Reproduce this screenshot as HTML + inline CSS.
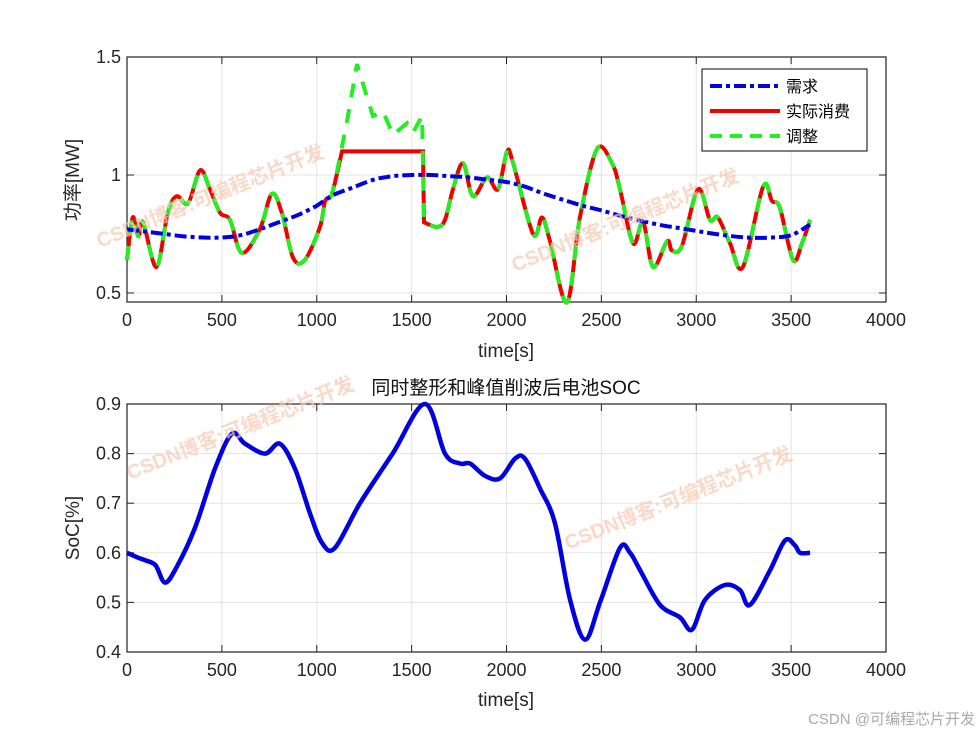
<!DOCTYPE html>
<html><head><meta charset="utf-8">
<style>
html,body{margin:0;padding:0;background:#fff;}
svg{display:block;font-family:"Liberation Sans","Noto Sans CJK SC",sans-serif;}
</style></head>
<body>
<svg id="chart" width="980" height="735" viewBox="0 0 980 735" xmlns="http://www.w3.org/2000/svg">
<g id="top"></g>
<g id="bot"></g>
<g id="legend">
  <rect x="702" y="69" width="165" height="82" fill="#fff" stroke="#000" stroke-width="1"/>
  <line x1="710" y1="86" x2="780" y2="86" stroke="#0000e0" stroke-width="4" stroke-dasharray="12,4,4,4"/>
  <text x="786" y="92" font-size="16">需求</text>
  <line x1="710" y1="111" x2="780" y2="111" stroke="#f00000" stroke-width="4"/>
  <text x="786" y="117" font-size="16">实际消费</text>
  <line x1="710" y1="136" x2="780" y2="136" stroke="#22ee22" stroke-width="4" stroke-dasharray="12,8"/>
  <text x="786" y="142" font-size="16">调整</text>
</g>
<g fill="#f6c8b0" font-size="20" font-weight="bold" opacity="0.7">
  <text transform="translate(100,248) rotate(-22)">CSDN博客:可编程芯片开发</text>
  <text transform="translate(515,272) rotate(-22)">CSDN博客:可编程芯片开发</text>
  <text transform="translate(130,480) rotate(-22)">CSDN博客:可编程芯片开发</text>
  <text transform="translate(568,550) rotate(-22)">CSDN博客:可编程芯片开发</text>
</g>
<text x="975" y="724" font-size="15" fill="#aaa" text-anchor="end">CSDN @可编程芯片开发</text>
</svg>
<script>
const xTicks=[0,500,1000,1500,2000,2500,3000,3500,4000];
const topYTicks=[0.5,1,1.5];
const topYLabels=["0.5","1","1.5"];
const botYTicks=[0.4,0.5,0.6,0.7,0.8,0.9];
const demandT=[0,100,200,300,400,500,600,700,800,900,1000,1054,1100,1200,1300,1400,1500,1600,1700,1800,1900,2003,2100,2200,2319,2400,2500,2635,2800,2951,3100,3267,3400,3500,3600];
const demandV=[0.77,0.76,0.75,0.74,0.735,0.735,0.745,0.77,0.8,0.83,0.87,0.9,0.92,0.95,0.98,0.995,1.0,1.0,0.995,0.99,0.98,0.97,0.95,0.92,0.89,0.87,0.85,0.82,0.79,0.77,0.75,0.735,0.735,0.745,0.79];
const actualT=[0,30,60,85,155,215,262,322,385,437,490,543,605,700,763,816,875,937,1017,1044,1080,1133,1560,1565,1634,1676,1718,1771,1823,1897,1955,2003,2035,2140,2187,2229,2319,2387,2477,2556,2598,2667,2720,2772,2846,2872,2925,3009,3072,3114,3178,3246,3352,3399,3441,3510,3557,3600];
const actualV=[0.64,0.82,0.74,0.8,0.61,0.84,0.91,0.88,1.02,0.94,0.84,0.81,0.67,0.77,0.92,0.84,0.65,0.64,0.78,0.89,0.92,1.1,1.1,0.8,0.78,0.81,0.94,1.05,0.91,0.99,0.94,1.1,1.05,0.75,0.82,0.72,0.46,0.82,1.11,1.05,0.94,0.71,0.8,0.61,0.72,0.68,0.7,0.94,0.81,0.82,0.71,0.61,0.95,0.89,0.86,0.64,0.71,0.81];
const spikeT=[1133,1160,1212,1265,1296,1349,1402,1476,1507,1555];
const spikeV=[1.12,1.23,1.47,1.33,1.25,1.27,1.17,1.22,1.18,1.25];
const socT=[0,60,95,150,200,260,358,464,553,622,727,806,885,964,1028,1096,1228,1400,1570,1676,1755,1808,1887,1966,2045,2097,2176,2255,2335,2414,2493,2598,2651,2704,2809,2914,2977,3046,3151,3230,3283,3389,3468,3520,3547,3600];
const socV=[0.6,0.59,0.585,0.575,0.54,0.57,0.65,0.77,0.84,0.82,0.8,0.82,0.77,0.68,0.62,0.61,0.70,0.80,0.9,0.8,0.78,0.78,0.755,0.75,0.79,0.79,0.73,0.66,0.505,0.425,0.5,0.61,0.6,0.565,0.495,0.47,0.445,0.505,0.535,0.525,0.495,0.565,0.625,0.615,0.6,0.6];

const NS="http://www.w3.org/2000/svg";
const X0=127,X1=886;
const xs=t=>X0+(t/4000)*(X1-X0);
const topY=v=>175-(v-1)*236;
const botY=v=>404+(0.9-v)*496;
function mk(tag,attrs,parent){const e=document.createElementNS(NS,tag);for(const k in attrs)e.setAttribute(k,attrs[k]);parent.appendChild(e);return e;}
function smoothPts(p,first){
  let d=(first?"M":"L")+p[0][0].toFixed(1)+","+p[0][1].toFixed(1);
  for(let i=0;i<p.length-1;i++){
    const a=p[i-1]||p[i],b=p[i],c=p[i+1],e=p[i+2]||c;
    const c1=[b[0]+(c[0]-a[0])/6,b[1]+(c[1]-a[1])/6],c2=[c[0]-(e[0]-b[0])/6,c[1]-(e[1]-b[1])/6];
    d+="C"+c1.map(n=>n.toFixed(1))+" "+c2.map(n=>n.toFixed(1))+" "+c[0].toFixed(1)+","+c[1].toFixed(1);
  }
  return d;
}
// smooth with optional break times: segments between breaks smoothed independently, joined with straight lines
function smooth(T,V,fx,fy,breaks,linearRange){
  breaks=breaks||[];
  let segs=[[]];
  T.forEach((t,i)=>{
    segs[segs.length-1].push([fx(t),fy(V[i]),t]);
    if(breaks.includes(t)){segs.push([[fx(t),fy(V[i]),t]]);}
  });
  let d="";
  segs.forEach((s,k)=>{
    if(s.length<2)return;
    const lin=linearRange&&s[0][2]>=linearRange[0]&&s[s.length-1][2]<=linearRange[1];
    if(lin){
      s.forEach((q,j)=>{d+=(d===""&&j===0?"M":"L")+q[0].toFixed(1)+","+q[1].toFixed(1);});
    } else d+=smoothPts(s,d==="");
  });
  return d;
}
function axes(g,top,bottom,yTicks,yLabels,fy,yTitle,yTitleY,xTitleY){
  xTicks.forEach(t=>{
    const gl=mk('line',{x1:xs(t),x2:xs(t),y1:top,y2:bottom,stroke:'#e3e3e3','stroke-width':1},g);
    
  });
  yTicks.forEach(v=>{
    const gl=mk('line',{x1:X0,x2:X1,y1:fy(v),y2:fy(v),stroke:'#e3e3e3','stroke-width':1},g);
    
  });
  const fr=mk('rect',{x:X0,y:top,width:X1-X0,height:bottom-top,fill:'none',stroke:'#222','stroke-width':1.2},g);
  
  xTicks.forEach(t=>{
    mk('line',{x1:xs(t),x2:xs(t),y1:bottom,y2:bottom-7,stroke:'#222'},g);
    mk('line',{x1:xs(t),x2:xs(t),y1:top,y2:top+7,stroke:'#222'},g);
    const tl=mk('text',{x:xs(t),y:bottom+24,'font-size':18,'text-anchor':'middle',fill:'#262626'},g);
    tl.textContent=t;
    
  });
  yTicks.forEach((v,i)=>{
    mk('line',{x1:X0,x2:X0+7,y1:fy(v),y2:fy(v),stroke:'#222'},g);
    mk('line',{x1:X1,x2:X1-7,y1:fy(v),y2:fy(v),stroke:'#222'},g);
    const tl=mk('text',{x:X0-6,y:fy(v)+6,'font-size':18,'text-anchor':'end',fill:'#262626'},g);
    tl.textContent=yLabels[i];
    
  });
  const xt=mk('text',{x:506,y:xTitleY,'font-size':19,'text-anchor':'middle',fill:'#262626'},g);
  xt.textContent='time[s]';
  
  const yt=mk('text',{x:0,y:0,'font-size':19,'text-anchor':'middle',fill:'#262626',transform:`translate(79,${yTitleY}) rotate(-90)`},g);
  yt.textContent=yTitle;
  
}
const gt=document.getElementById('top'),gb=document.getElementById('bot');
axes(gt,57,302,topYTicks,topYLabels,topY,'功率[MW]',180,357);
axes(gb,404,652,botYTicks,botYTicks.map(v=>v.toFixed(1)),botY,'SoC[%]',528,706);
const ttl=mk('text',{x:506,y:394,'font-size':19,'text-anchor':'middle',fill:'#111'},gb);
ttl.textContent='同时整形和峰值削波后电池SOC';


const redPath=mk('path',{d:smooth(actualT,actualV,xs,topY,[1133,1560,1565],[1133,1565]),fill:'none',stroke:'#f00000','stroke-width':4},gt);


const gT=[],gV=[];
actualT.forEach((t,i)=>{ if(t<1133){gT.push(t);gV.push(actualV[i]);} });
spikeT.forEach((t,i)=>{gT.push(t);gV.push(spikeV[i]);});
actualT.forEach((t,i)=>{ if(t>1560){gT.push(t);gV.push(actualV[i]);} });
const greenPath=mk('path',{d:smooth(gT,gV,xs,topY,[1133,1555,1565],[1133,1565]),fill:'none',stroke:'#22ee22','stroke-width':4,'stroke-dasharray':'14,12'},gt);


const bluePath=mk('path',{d:smooth(demandT,demandV,xs,topY),fill:'none',stroke:'#0000e0','stroke-width':4,'stroke-dasharray':'12,4,4,4'},gt);


const socPath=mk('path',{d:smooth(socT,socV,xs,botY),fill:'none',stroke:'#0000e0','stroke-width':4.5,'stroke-linejoin':'round'},gb);


</script>
</body></html>
